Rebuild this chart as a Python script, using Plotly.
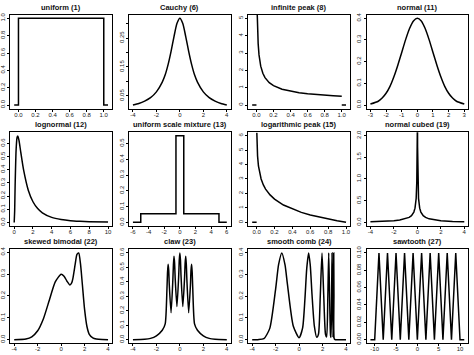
import plotly.graph_objects as go

# ---------------- data ----------------
titles = ["uniform (1)", "Cauchy (6)", "infinite peak (8)", "normal (11)",
          "lognormal (12)", "uniform scale mixture (13)", "logarithmic peak (15)", "normal cubed (19)",
          "skewed bimodal (22)", "claw (23)", "smooth comb (24)", "sawtooth (27)"]

uniform_x = [-0.05, 0, 0, 1, 1, 1.05]
uniform_y = [0, 0, 1, 1, 0, 0]

cauchy_x = [-4, -3.5, -3, -2.5, -2, -1.5, -1.25, -1, -0.75, -0.5, -0.25, 0,
            0.25, 0.5, 0.75, 1, 1.25, 1.5, 2, 2.5, 3, 3.5, 4]
cauchy_y = [0.019, 0.024, 0.032, 0.044, 0.064, 0.098, 0.123, 0.159, 0.204, 0.255, 0.300, 0.318,
            0.300, 0.255, 0.204, 0.159, 0.123, 0.098, 0.064, 0.044, 0.032, 0.024, 0.019]

infpeak_x = [-0.05, 0, None, 0.009, 0.01, 0.015, 0.02, 0.03, 0.05, 0.075, 0.1, 0.15, 0.2, 0.3,
             0.4, 0.5, 0.6, 0.7, 0.8, 0.9, 1.0, None, 1.0, 1.05]
infpeak_y = [0, 0, None, 5.27, 5.0, 4.08, 3.54, 2.89, 2.24, 1.83, 1.58, 1.29, 1.12, 0.91,
             0.79, 0.71, 0.65, 0.60, 0.56, 0.53, 0.50, None, 0, 0]

normal_x = [-3, -2.5, -2.25, -2, -1.75, -1.5, -1.25, -1, -0.75, -0.5, -0.25, 0,
            0.25, 0.5, 0.75, 1, 1.25, 1.5, 1.75, 2, 2.25, 2.5, 3]
normal_y = [0.0044, 0.0175, 0.032, 0.054, 0.086, 0.130, 0.183, 0.242, 0.301, 0.352, 0.387, 0.399,
            0.387, 0.352, 0.301, 0.242, 0.183, 0.130, 0.086, 0.054, 0.032, 0.0175, 0.0044]

lognorm_x = [0, 0.05, 0.1, 0.2, 0.3, 0.37, 0.5, 0.7, 1.0, 1.5, 2, 2.5, 3, 4, 5, 6, 7, 8, 10]
lognorm_y = [0, 0.089, 0.283, 0.546, 0.645, 0.657, 0.628, 0.534, 0.399, 0.245, 0.157, 0.105,
             0.073, 0.038, 0.022, 0.013, 0.0086, 0.0058, 0.0028]

usm_x = [-6, -5, -5, -0.5, -0.5, 0.5, 0.5, 5, 5, 6]
usm_y = [0, 0, 0.055, 0.055, 0.55, 0.55, 0.055, 0.055, 0, 0]

logpeak_x = [-0.05, 0, None, 0.002, 0.0025, 0.005, 0.01, 0.02, 0.03, 0.05, 0.075, 0.1, 0.15,
             0.2, 0.3, 0.4, 0.5, 0.6, 0.7, 0.8, 0.9, 1.0]
logpeak_y = [0, 0, None, 6.2, 6.0, 5.3, 4.6, 3.9, 3.5, 3.0, 2.59, 2.30, 1.90,
             1.61, 1.20, 0.92, 0.69, 0.51, 0.36, 0.22, 0.105, 0]

ncubed_x = [-4, -3, -2, -1.5, -1, -0.7, -0.5, -0.3, -0.2, -0.1, -0.05, -0.03, -0.02, -0.015, -0.012,
            0.012, 0.015, 0.02, 0.03, 0.05, 0.1, 0.2, 0.3, 0.5, 0.7, 1, 1.5, 2, 3, 4]
ncubed_y = [0.015, 0.0226, 0.0379, 0.0526, 0.0807, 0.114, 0.154, 0.237, 0.327, 0.554, 0.916, 1.31,
            1.74, 2.12, 2.47, 2.47, 2.12, 1.74, 1.31, 0.916, 0.554, 0.327, 0.237, 0.154, 0.114,
            0.0807, 0.0526, 0.0379, 0.0226, 0.015]

skew_x = [-4, -3, -2.5, -2, -1.5, -1, -0.5, 0, 0.25, 0.5, 0.75, 0.9, 1.0, 1.2, 1.35, 1.5,
          1.65, 1.8, 2.0, 2.2, 2.4, 2.7, 3, 3.5, 4]
skew_y = [0.0001, 0.0033, 0.0131, 0.0405, 0.097, 0.1815, 0.264, 0.299, 0.290, 0.267, 0.250, 0.259,
          0.279, 0.345, 0.390, 0.396, 0.347, 0.259, 0.138, 0.060, 0.0246, 0.0083, 0.0033, 0.0007, 0.0001]

claw_x = [-4, -3, -2.5, -2, -1.5, -1.25, -1.1, -1.05, -1.0, -0.95, -0.9, -0.75, -0.6, -0.55, -0.5,
          -0.45, -0.4, -0.25, -0.1, -0.05, 0, 0.05, 0.1, 0.25, 0.4, 0.45, 0.5, 0.55, 0.6, 0.75,
          0.9, 0.95, 1.0, 1.05, 1.1, 1.25, 1.5, 2, 2.5, 3, 4]
claw_y = [0.0001, 0.0022, 0.0088, 0.027, 0.065, 0.109, 0.351, 0.467, 0.520, 0.479, 0.375, 0.186,
          0.409, 0.519, 0.575, 0.528, 0.426, 0.228, 0.440, 0.551, 0.598, 0.551, 0.440, 0.228,
          0.426, 0.528, 0.575, 0.519, 0.409, 0.186, 0.375, 0.479, 0.520, 0.467, 0.351, 0.109,
          0.065, 0.027, 0.0088, 0.0022, 0.0001]

comb_x = [-4, -3.5, -3, -2.5, -2, -1.75, -1.476, -1.2, -1, -0.5, 0, 0.3, 0.5, 0.65, 0.81, 0.95,
          1.1, 1.3, 1.5, 1.65, 1.8, 1.952, 2.1, 2.25, 2.35, 2.45, 2.524, 2.6, 2.68, 2.72, 2.78,
          2.81, 2.85, 2.895, 2.935, 2.952, 2.97, 3.0, 3.1, 4]
comb_y = [0, 0.0001, 0.0044, 0.052, 0.234, 0.345, 0.399, 0.344, 0.257, 0.063, 0.0084, 0.054,
          0.19, 0.327, 0.399, 0.343, 0.208, 0.062, 0.011, 0.025, 0.194, 0.399, 0.202, 0.025,
          0.012, 0.202, 0.399, 0.194, 0.02, 0.0105, 0.255, 0.399, 0.18, 0.012, 0.226, 0.399,
          0.21, 0.004, 0, 0]

saw_x = [-11, -10, -9, -8, -7, -6, -5, -4, -3, -2, -1, 0, 1, 2, 3, 4, 5, 6, 7, 8, 9, 10, 11]
saw_y = [0, 0, 0.1, 0, 0.1, 0, 0.1, 0, 0.1, 0, 0.1, 0, 0.1, 0, 0.1, 0, 0.1, 0, 0.1, 0, 0.1, 0, 0]

# tick values / labels per panel
xticks = [
    ([0, 0.2, 0.4, 0.6, 0.8, 1.0], ["0.0", "0.2", "0.4", "0.6", "0.8", "1.0"]),
    ([-4, -2, 0, 2, 4], ["-4", "-2", "0", "2", "4"]),
    ([0, 0.2, 0.4, 0.6, 0.8, 1.0], ["0.0", "0.2", "0.4", "0.6", "0.8", "1.0"]),
    ([-3, -2, -1, 0, 1, 2, 3], ["-3", "-2", "-1", "0", "1", "2", "3"]),
    ([0, 2, 4, 6, 8, 10], ["0", "2", "4", "6", "8", "10"]),
    ([-6, -4, -2, 0, 2, 4, 6], ["-6", "-4", "-2", "0", "2", "4", "6"]),
    ([0, 0.2, 0.4, 0.6, 0.8, 1.0], ["0.0", "0.2", "0.4", "0.6", "0.8", "1.0"]),
    ([-4, -2, 0, 2, 4], ["-4", "-2", "0", "2", "4"]),
    ([-4, -2, 0, 2, 4], ["-4", "-2", "0", "2", "4"]),
    ([-4, -2, 0, 2, 4], ["-4", "-2", "0", "2", "4"]),
    ([-4, -2, 0, 2, 4], ["-4", "-2", "0", "2", "4"]),
    ([-10, -5, 0, 5, 10], ["-10", "-5", "0", "5", "10"]),
]
yticks = [
    ([0, 0.2, 0.4, 0.6, 0.8, 1.0], ["0.0", "0.2", "0.4", "0.6", "0.8", "1.0"]),
    ([0.05, 0.10, 0.15, 0.20, 0.25, 0.30], ["0.05", "", "0.15", "", "0.25", ""]),
    ([0, 1, 2, 3, 4, 5], ["0", "1", "2", "3", "4", "5"]),
    ([0, 0.1, 0.2, 0.3, 0.4], ["0.0", "0.1", "0.2", "0.3", "0.4"]),
    ([0, 0.1, 0.2, 0.3, 0.4, 0.5, 0.6], ["0.0", "0.1", "0.2", "0.3", "0.4", "0.5", "0.6"]),
    ([0, 0.1, 0.2, 0.3, 0.4, 0.5], ["0.0", "0.1", "0.2", "0.3", "0.4", "0.5"]),
    ([0, 1, 2, 3, 4, 5, 6], ["0", "1", "2", "3", "4", "5", "6"]),
    ([0, 0.5, 1.0, 1.5, 2.0], ["0.0", "0.5", "1.0", "1.5", "2.0"]),
    ([0, 0.1, 0.2, 0.3, 0.4], ["0.0", "0.1", "0.2", "0.3", "0.4"]),
    ([0, 0.1, 0.2, 0.3, 0.4, 0.5, 0.6], ["0.0", "0.1", "0.2", "0.3", "0.4", "0.5", "0.6"]),
    ([0, 0.1, 0.2, 0.3, 0.4], ["0.0", "0.1", "0.2", "0.3", "0.4"]),
    ([0, 0.02, 0.04, 0.06, 0.08, 0.10], ["0.00", "0.02", "0.04", "0.06", "0.08", "0.10"]),
]

# ---------------- layout ----------------
W, H = 474, 355
col_left = [8.5, 128, 248, 367]
box_w = 102
row_top = [11, 130, 249]
box_h = 95

series = [
    (uniform_x, uniform_y, "linear"), (cauchy_x, cauchy_y, "spline"),
    (infpeak_x, infpeak_y, "linear"), (normal_x, normal_y, "spline"),
    (lognorm_x, lognorm_y, "spline"), (usm_x, usm_y, "linear"),
    (logpeak_x, logpeak_y, "linear"), (ncubed_x, ncubed_y, "linear"),
    (skew_x, skew_y, "spline"), (claw_x, claw_y, "spline"),
    (comb_x, comb_y, "spline"), (saw_x, saw_y, "linear"),
]
xranges = [[-0.094, 1.094], [-4.32, 4.32], [-0.094, 1.094], [-3.24, 3.24],
           [-0.4, 10.4], [-6.48, 6.48], [-0.092, 1.042], [-4.32, 4.32],
           [-4.32, 4.32], [-4.32, 4.32], [-4.32, 4.32], [-11.88, 11.88]]
yranges = [[-0.04, 1.04], [0.0067, 0.330], [-0.2, 5.2], [-0.016, 0.415],
           [-0.026, 0.686], [-0.022, 0.572], [-0.24, 6.24], [-0.08, 2.08],
           [-0.016, 0.412], [-0.024, 0.622], [-0.016, 0.415], [-0.004, 0.104]]

fig = go.Figure()
font_family = "Liberation Sans, Arial, Helvetica, sans-serif"
annotations = []
for i in range(12):
    r, c = divmod(i, 4)
    ax = "" if i == 0 else str(i + 1)
    xs, ys, shape = series[i]
    fig.add_trace(go.Scatter(x=xs, y=ys, mode="lines", xaxis="x" + ax, yaxis="y" + ax,
                             line=dict(color="black", width=1.5, shape=shape, smoothing=0.6),
                             connectgaps=False, showlegend=False, hoverinfo="skip"))
    x0 = col_left[c] / W
    x1 = (col_left[c] + box_w) / W
    y1 = 1 - row_top[r] / H
    y0 = 1 - (row_top[r] + box_h) / H
    common = dict(showline=True, mirror=True, linecolor="black", linewidth=1,
                  ticks="outside", ticklen=2, tickwidth=1, tickcolor="black",
                  showgrid=False, zeroline=False,
                  tickfont=dict(family=font_family, size=6, color="#222"))
    fig.layout["xaxis" + ax] = dict(domain=[x0, x1], range=xranges[i], anchor="y" + ax,
                                    tickmode="array", tickvals=xticks[i][0], ticktext=xticks[i][1],
                                    tickangle=0, ticklabelstandoff=-2, **common)
    fig.layout["yaxis" + ax] = dict(domain=[y0, y1], range=yranges[i], anchor="x" + ax,
                                    tickmode="array", tickvals=yticks[i][0], ticktext=yticks[i][1],
                                    tickangle=-90, ticklabelstandoff=0, **common)
    annotations.append(dict(text="<b>" + titles[i] + "</b>", xref="paper", yref="paper",
                            x=(x0 + x1) / 2, y=y1, xanchor="center", yanchor="bottom",
                            yshift=1, showarrow=False,
                            font=dict(family=font_family, size=7.5, color="#111")))

fig.update_layout(width=W, height=H, margin=dict(l=0, r=0, t=0, b=0),
                  paper_bgcolor="white", plot_bgcolor="white", annotations=annotations)
fig.write_html("out.html", config={"displayModeBar": False},
               post_script="document.body.style.margin='0';document.body.style.overflow='hidden';")
